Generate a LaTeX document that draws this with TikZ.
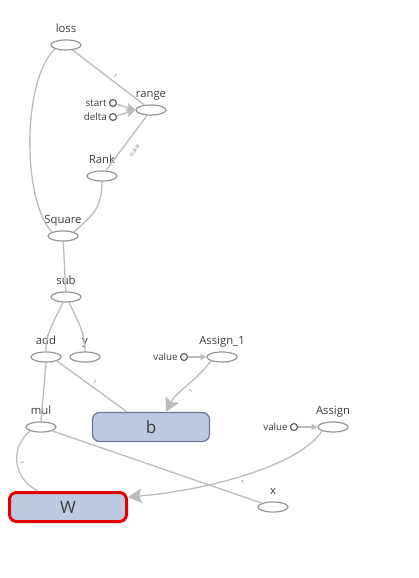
\documentclass[tikz,border=0pt]{standalone}
\usepackage{fontspec}
\setmainfont{Open Sans}
\usetikzlibrary{shapes.geometric,arrows.meta,positioning}
\definecolor{edgegray}{RGB}{188,188,188}
\definecolor{opgray}{RGB}{150,150,150}
\definecolor{elblgray}{RGB}{125,125,125}
\definecolor{txtgray}{RGB}{60,60,60}
\definecolor{varfill}{RGB}{190,200,224}
\definecolor{vardraw}{RGB}{110,120,145}
\tikzset{
  opnode/.style={ draw=opgray, ellipse, line width=1.2pt, minimum width=30pt, minimum height=10pt, inner sep=0pt }
}
\tikzset{
  constnode/.style={ draw=txtgray!80, circle, line width=1.2pt, minimum size=7pt, inner sep=0pt }
}
\tikzset{
  varnode/.style={ draw=vardraw, fill=varfill, rounded corners=7pt, line width=1.2pt,
    minimum width=117pt, minimum height=29pt, font=\fontsize{17}{17}\selectfont, text=txtgray }
}
\tikzset{
  selected/.style={ draw=red!90!black, line width=3pt, minimum height=29pt }
}
\tikzset{
  lbl/.style={ inner sep=0pt, text depth=0pt, label distance=7pt, font=\fontsize{11.3}{11}\selectfont, text=txtgray },
  smalllbl/.style={ inner sep=0pt, label distance=2pt, font=\fontsize{9.8}{10}\selectfont, text=txtgray },
  elbl/.style={ inner sep=2.5pt, font=\fontsize{5.5}{5.5}\selectfont, text=elblgray },
  edge/.style={ draw=edgegray, line width=1.3pt },
  bigarrow/.style={ -{Stealth[length=14pt,width=15pt,inset=3pt]} },
  midarrow/.style={ -{Stealth[length=9pt,width=9pt,inset=2pt]} },
  smallarrow/.style={ -{Stealth[length=6pt,width=6pt,inset=1pt]} }
}

\begin{document}
\begin{tikzpicture}[x=1pt,y=-1pt]
      \useasboundingbox (0,0) rectangle (419,578);

      \node[opnode, label={[lbl]above:loss}] (loss) at (66,45) {};
      \node[opnode, label={[lbl]above:range}] (range) at (151,110) {};
      \node[constnode, label={[smalllbl]left:start}] (start) at (113,103) {};
      \node[constnode, label={[smalllbl]left:delta}] (delta) at (113,117) {};
      \node[opnode, label={[lbl]above:Rank}] (rank) at (102,176) {};
      \node[opnode, label={[lbl]above:Square}] (square) at (63,236) {};

      \node[opnode, label={[lbl]above:sub}] (sub) at (66,297) {};
      \node[opnode, label={[lbl]above:add}] (add) at (46,357) {};
      \node[opnode, label={[lbl]above:y}] (y) at (85,357) {};
      \node[opnode, label={[lbl]above:Assign\_1}] (assign1) at (222,357) {};
      \node[constnode, label={[smalllbl]left:value}] (value1) at (184,357) {};

      \node[varnode] (b) at (151,427) {b};
      \node[opnode, label={[lbl]above:mul}] (mul) at (41,427) {};
      \node[opnode, label={[lbl]above:Assign}] (assign) at (333,427) {};
      \node[constnode, label={[smalllbl]left:value}] (value) at (294,427) {};

      \node[opnode, label={[lbl]above:x}] (x) at (273,507) {};
      \node[varnode, selected] (w) at (68,507) {W};

      \begin{scope}[edge]
        \draw (loss) -- node[elbl, sloped, above, pos=0.55] {1} (range);
        \draw[midarrow] (start) -- (range.west);
        \draw[midarrow] (delta) -- (range.west);
        \draw (rank) -- node[elbl, sloped, below, pos=0.48, inner sep=8pt] {scalar} (range);
        \draw (rank.south) .. controls +(0,30) and +(15,-15) .. (square.north east);
        \draw (loss.south west) .. controls (22,80) and (22,200) .. (square.north west);

        \draw (square) -- (sub);
        \draw (sub.240) .. controls +(-8,18) and +(0,-20) .. (add.north);
        \draw (sub.300) .. controls +(8,18) and +(0,-20) .. (y.north);

        \draw (add.south) -- (mul.north);
        \draw (add.south east) -- node[elbl, sloped, above] {1} ([xshift=-24pt]b.north);
        \draw[smallarrow] (value1) -- (assign1);
        \draw[bigarrow] (assign1.south west) .. controls +(-15,20) and +(10,-20) .. node[elbl, sloped, below, pos=0.5, inner sep=3.5pt] {1} ([xshift=15pt]b.north);

        \draw (mul.south west) .. controls (8,450) and (15,480) .. node[elbl, sloped, above, pos=0.5] {1} ([xshift=-30pt]w.north);
        \draw (mul) -- (x);
        \draw[smallarrow] (value) -- (assign);
        \draw[bigarrow] (assign.south west) .. controls (300,465) and (210,490) .. node[elbl, sloped, below, pos=0.53, inner sep=3.5pt] {1} ([yshift=-6pt]w.north east);
      \end{scope}
    \end{tikzpicture}
\end{document}
